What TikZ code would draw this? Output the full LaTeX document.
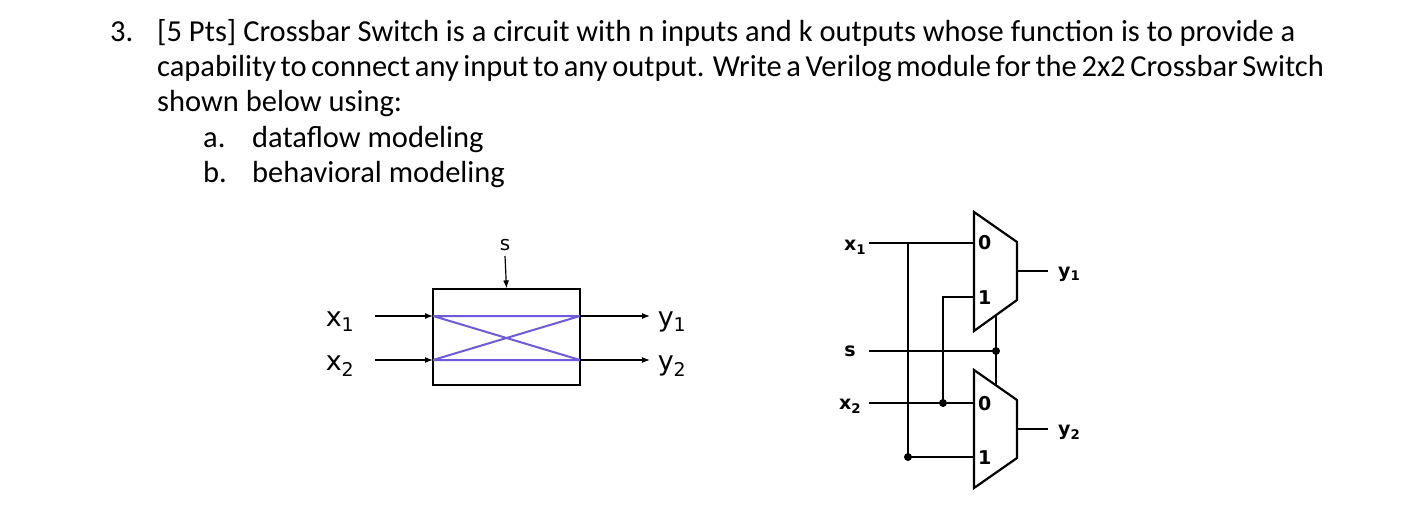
\documentclass[tikz,border=0pt]{standalone}
\usepackage{fontspec}
\setmainfont{Carlito}
\newfontfamily\vfont{DejaVu Sans}
\usetikzlibrary{arrows.meta}
\begin{document}
\begin{tikzpicture}[x=1pt,y=-1pt,
  txt/.style={anchor=base west,inner sep=0,font=\fontsize{30.5}{36}\selectfont},
  lab/.style={inner sep=0,font=\vfont\fontsize{27}{32}\selectfont},
  blab/.style={inner sep=0,font=\vfont\bfseries\fontsize{19}{22}\selectfont},
  arr/.style={-{Latex[length=8pt,width=6pt]},line width=1.2pt},
  pur/.style={draw={rgb,255:red,110;green,90;blue,220},line width=2pt},
  w/.style={line width=2.2pt},
  dot/.style={circle,fill,inner sep=0,minimum size=8pt}]
\useasboundingbox (0,0) rectangle (1402,505);
\node[txt] (l0) at (110,42) {3.};
\node[txt,text width=1141pt,align=justify] (l1) at (157,42) {[5 Pts] Crossbar Switch is a circuit with n inputs and k outputs whose function is to provide a\hfill\null};
\node[txt] (l2) at (157,77) {\makebox[1141pt][s]{capability to connect any input to any output. Write a Verilog module for the 2x2 Crossbar Switch}};
\node[txt] (l3) at (157,112) {shown below using:};
\node[txt] (a) at (203,148) {a.};
\node[txt] (at) at (252,148) {dataflow modeling};
\node[txt] (b) at (203,183) {b.};
\node[txt] (bt) at (252,183) {behavioral modeling};
% left diagram
\node[draw,line width=1.2pt,minimum width=147pt,minimum height=96pt,inner sep=0] (box) at (506.5,337) {};
\coordinate (i1) at (433,316); \coordinate (i2) at (433,360);
\coordinate (o1) at (580,316); \coordinate (o2) at (580,360);
\draw[pur] (i1)--(o1) (i2)--(o2) (i1)--(o2) (i2)--(o1);
\node[lab] (x1) at (340,322) {x\textsubscript{1}};
\node[lab] (x2) at (340,366) {x\textsubscript{2}};
\node[lab] (y1) at (672,322) {y\textsubscript{1}};
\node[lab] (y2) at (672,366) {y\textsubscript{2}};
\node[lab,font=\vfont\fontsize{20}{24}\selectfont] (s) at (505,245) {s};
\coordinate (st) at (505,256);
\coordinate (x1e) at (375,316); \coordinate (x2e) at (375,360);
\coordinate (y1e) at (650,316); \coordinate (y2e) at (650,360);
\draw[arr] (x1e)--(i1); \draw[arr] (x2e)--(i2);
\draw[arr] (o1)--(y1e); \draw[arr] (o2)--(y2e);
\draw[arr] (st)--(box.north);
% right diagram
\draw[w] (974,212)--(1017,242)--(1017,300)--(974,331)--cycle;
\draw[w] (974,370)--(1017,400)--(1017,458)--(974,488)--cycle;
\node[blab,anchor=west] (m10) at (978,243) {0};
\node[blab,anchor=west] (m11) at (978,298) {1};
\node[blab,anchor=west] (m20) at (978,404) {0};
\node[blab,anchor=west] (m21) at (978,458) {1};
\node[blab] (rx1) at (855,247) {x\textsubscript{1}};
\node[blab] (rs) at (850,351) {s};
\node[blab] (rx2) at (850,406) {x\textsubscript{2}};
\node[blab,anchor=west] (ry1) at (1058,274) {y\textsubscript{1}};
\node[blab,anchor=west] (ry2) at (1058,432) {y\textsubscript{2}};
\coordinate (a1) at (869,243); \coordinate (a2) at (974,243);
\coordinate (b1) at (943,297); \coordinate (b2) at (974,297);
\coordinate (c1) at (869,403); \coordinate (c2) at (974,403);
\coordinate (d1) at (908,457); \coordinate (d2) at (974,457);
\coordinate (s1) at (869,351); \coordinate (s2) at (996,351);
\coordinate (v1) at (908,243); \coordinate (dx2) at (943,403);
\coordinate (st1) at (996,315); \coordinate (st2) at (996,385);
\coordinate (q1) at (1017,271); \coordinate (q2) at (1048,271);
\coordinate (r1) at (1017,429); \coordinate (r2) at (1048,429);
\draw[w] (a1)--(a2) (v1)--(d1)--(d2) (c1)--(c2) (dx2)--(b1)--(b2)
  (s1)--(s2) (st1)--(st2) (q1)--(q2) (r1)--(r2);
\node[dot] (dd) at (d1) {}; \node[dot] (dc) at (dx2) {}; \node[dot] (ds) at (s2) {};
\end{tikzpicture}
\end{document}
